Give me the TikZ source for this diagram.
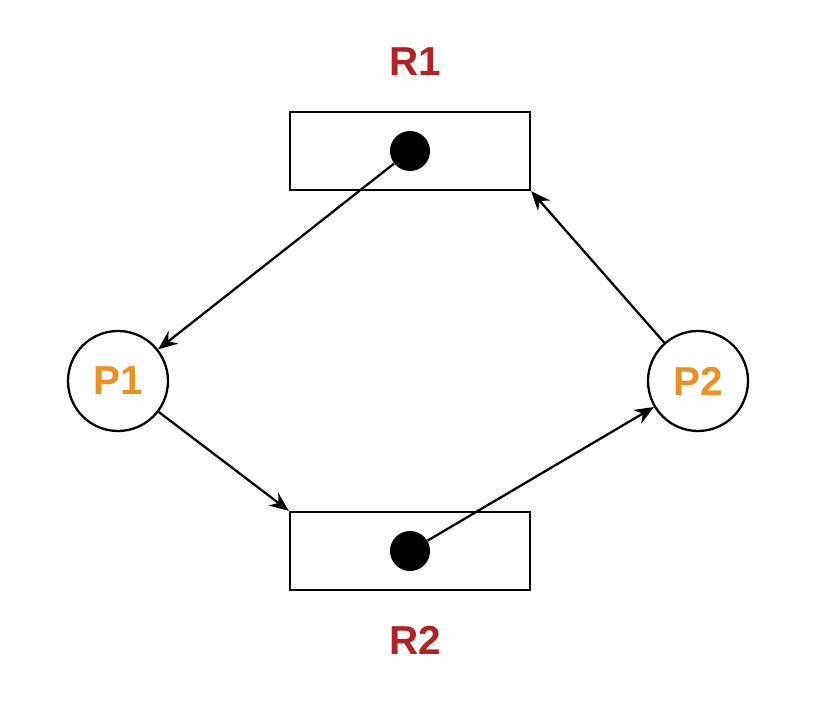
\documentclass[tikz,border=0pt]{standalone}
\usepackage{fontspec}
\setmainfont{Liberation Sans}
\usetikzlibrary{arrows.meta}
\definecolor{resred}{RGB}{178,34,34}
\definecolor{procorange}{RGB}{235,145,35}
\tikzset{
  resbox/.style={draw, line width=1.3pt, minimum width=4.8cm, minimum height=1.56cm},
  inst/.style={fill=black, circle, minimum size=0.8cm, inner sep=0pt},
  proc/.style={draw, line width=1.3pt, circle, minimum size=2cm, inner sep=0pt,
    font=\fontsize{23}{26}\selectfont\bfseries, text=procorange},
  lbl/.style={font=\fontsize{23}{26}\selectfont\bfseries, text=resred},
  edge/.style={line width=1.3pt, -{Stealth[length=11pt,width=9pt]}}
}
\begin{document}
\begin{tikzpicture}
\useasboundingbox (0,0) rectangle (16.6,14.28);

% Ressourcen
\node[resbox] (r1) at (8.2,11.26) {};
\node[resbox] (r2) at (8.2,3.26) {};
\node[inst] (d1) at (8.2,11.26) {};
\node[inst] (d2) at (8.2,3.26) {};
\node[lbl] (l1) at (8.3,13.04) {R1};
\node[lbl] (l2) at (8.3,1.48) {R2};

% Prozesse
\node[proc] (p1) at (2.36,6.66) {P1};
\node[proc] (p2) at (13.96,6.66) {P2};

% Kanten
\draw[edge] (d1) -- (p1);
\draw[edge] (p1) -- (r2.north west);
\draw[edge] (d2) -- (p2);
\draw[edge] (p2) -- (r1.south east);

\end{tikzpicture}
\end{document}
